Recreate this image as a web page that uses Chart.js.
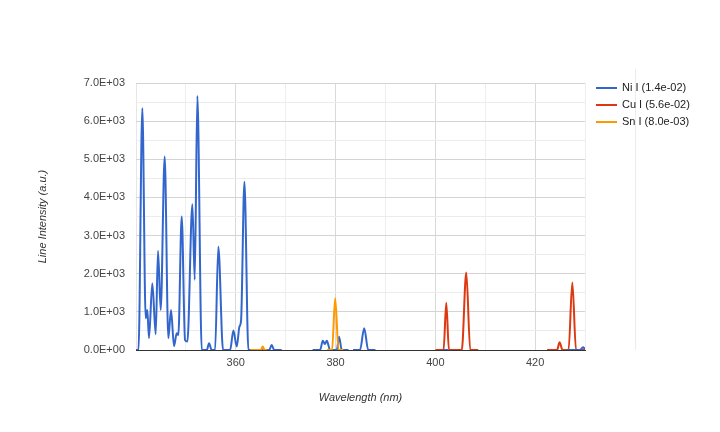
<!DOCTYPE html>
<html>
<head>
<meta charset="utf-8">
<script src="https://cdn.jsdelivr.net/npm/chart.js@4.4.1/dist/chart.umd.min.js"></script>
<style>
  html, body { margin: 0; padding: 0; background: #ffffff; }
  #wrap { width: 720px; height: 432px; }
</style>
</head>
<body>
<div id="wrap"><canvas id="c" width="720" height="432"></canvas></div>
<script>
// ---- data ----
const seriesLabels = ['Ni I (1.4e-02)', 'Cu I (5.6e-02)', 'Sn I (8.0e-03)'];

// null separates drawn segments
const niX = [340.0, 340.5, 341.27, 341.94, 342.27, 342.6, 343.27, 343.95, 344.41, 344.95, 345.75, 346.48, 347.02, 347.62, 348.16, 348.49, 349.16, 349.83, 350.3, 351.3, 351.77, 352.3, 353.18, 354.2, 354.64, 355.15, 355.85, 356.5, 357.45, 358.86, 359.52, 360.2, 360.73, 361.06, 361.73, 362.53, 366.7, 367.2, 367.7, 369.2,
             372,
             375.4, 376.9, 377.45, 377.85, 378.25, 378.9, 380.25, 380.7, 381.25, 382.6,
             383,
             383.5, 384.9, 385.74, 386.55, 388.0,
             395,
             401.6, 402.6,
             415,
             426.4, 429.0, 429.6, 430.0];
const niY = [0, 0, 6340, 830, 1050, 310, 1750, 410, 2600, 1050, 5070, 310, 1050, 100, 440, 390, 3500, 260, 220, 3820, 1840, 6660, 0, 0, 180, 0, 0, 2710, 0, 0, 510, 90, 610, 770, 4410, 0, 0, 130, 0, 0,
             null,
             0, 0, 245, 160, 245, 0, 0, 350, 0, 0,
             null,
             0, 0, 570, 0, 0,
             null,
             0, 0,
             null,
             0, 0, 70, 30];

const cuX = [400.0, 401.65, 402.19, 402.73, 405.3, 406.2, 407.0, 408.6,
             415,
             422.4, 424.4, 424.9, 425.5, 426.7, 427.46, 428.2, 430.0];
const cuY = [0, 0, 1240, 0, 0, 2030, 0, 0,
             null,
             0, 0, 200, 0, 0, 1770, 0, 0];

const snX = [362.9, 365.0, 365.4, 365.8, 366.3,
             370,
             378.3, 379.3, 379.92, 380.6, 381.6];
const snY = [0, 0, 90, 0, 0,
             null,
             0, 0, 1360, 0, 0];

const xTickLabels = ['360', '380', '400', '420'];
const yTickLabels = ['0.0E+00', '1.0E+03', '2.0E+03', '3.0E+03', '4.0E+03', '5.0E+03', '6.0E+03', '7.0E+03'];

const colors = ['#3366cc', '#dc3912', '#ff9900'];

function pts(xs, ys) { return xs.map((x, i) => ({ x: x, y: ys[i] })); }

const FONT = '"Liberation Sans", Arial, sans-serif';

const legendPlugin = {
  id: 'customLegend',
  afterDraw(chart) {
    const ctx = chart.ctx;
    ctx.save();
    const x0 = 596, y0 = 88, step = 17;
    ctx.font = '11px ' + FONT;
    ctx.textBaseline = 'middle';
    ctx.textAlign = 'left';
    seriesLabels.forEach((lab, i) => {
      const y = y0 + i * step;
      ctx.strokeStyle = colors[i];
      ctx.lineWidth = 2;
      ctx.beginPath();
      ctx.moveTo(x0, y);
      ctx.lineTo(x0 + 21, y);
      ctx.stroke();
      ctx.fillStyle = '#222222';
      ctx.fillText(lab, x0 + 26, y);
    });
    ctx.restore();
  },
  beforeDatasetsDraw(chart) {
    // faint grid line at 440 that shows beyond the plot
    const ctx = chart.ctx;
    const xs = chart.scales.x;
    const px = Math.round(xs.getPixelForValue(440)) + 0.5;
    ctx.save();
    ctx.strokeStyle = '#ececec';
    ctx.lineWidth = 1;
    ctx.beginPath();
    ctx.moveTo(px, chart.chartArea.top - 14);
    ctx.lineTo(px, chart.chartArea.bottom);
    ctx.stroke();
    ctx.restore();
  }
};

new Chart(document.getElementById('c'), {
  type: 'line',
  data: {
    datasets: [
      { label: seriesLabels[0], data: pts(niX, niY), borderColor: colors[0], order: 1 },
      { label: seriesLabels[1], data: pts(cuX, cuY), borderColor: colors[1], order: 2 },
      { label: seriesLabels[2], data: pts(snX, snY), borderColor: colors[2], order: 0 }
    ]
  },
  options: {
    responsive: false,
    animation: false,
    spanGaps: false,
    elements: {
      point: { radius: 0, hoverRadius: 0 },
      line: { borderWidth: 2, tension: 0.4, cubicInterpolationMode: 'monotone', fill: false }
    },
    layout: { padding: { left: 0, right: 135, top: 83, bottom: 0 } },
    plugins: {
      legend: { display: false },
      tooltip: { enabled: false }
    },
    scales: {
      x: {
        type: 'linear',
        min: 340, max: 430,
        afterFit(s) { s.height = 82; },
        ticks: {
          stepSize: 10,
          padding: 6,
          maxRotation: 0,
          autoSkip: false,
          color: '#444444',
          font: { family: FONT, size: 11 },
          callback(v) { const t = String(v); return xTickLabels.includes(t) ? t : ''; }
        },
        grid: {
          drawTicks: false,
          color(c) {
            const v = c.tick.value;
            if (v === 340) return '#e6e6e6';
            return v % 20 === 0 ? '#d9d9d9' : '#eeeeee';
          }
        },
        border: { display: true, color: '#333333', width: 1 },
        title: {
          display: true,
          text: 'Wavelength (nm)',
          color: '#333333',
          font: { family: FONT, size: 11, style: 'italic' },
          padding: { top: 0, bottom: 27 }
        }
      },
      y: {
        min: 0, max: 7000,
        afterFit(s) { s.width = 136; },
        ticks: {
          stepSize: 500,
          padding: 11,
          autoSkip: false,
          color: '#444444',
          font: { family: FONT, size: 11 },
          callback(v) { return v % 1000 === 0 ? yTickLabels[v / 1000] : ''; }
        },
        grid: {
          drawTicks: false,
          color(c) { return c.tick.value % 1000 === 0 ? '#d4d4d4' : '#ececec'; }
        },
        border: { display: false },
        title: {
          display: true,
          text: 'Line Intensity (a.u.)',
          color: '#333333',
          font: { family: FONT, size: 11, style: 'italic' },
          padding: { top: 36, bottom: 0 }
        }
      }
    }
  },
  plugins: [legendPlugin]
});
</script>
</body>
</html>
